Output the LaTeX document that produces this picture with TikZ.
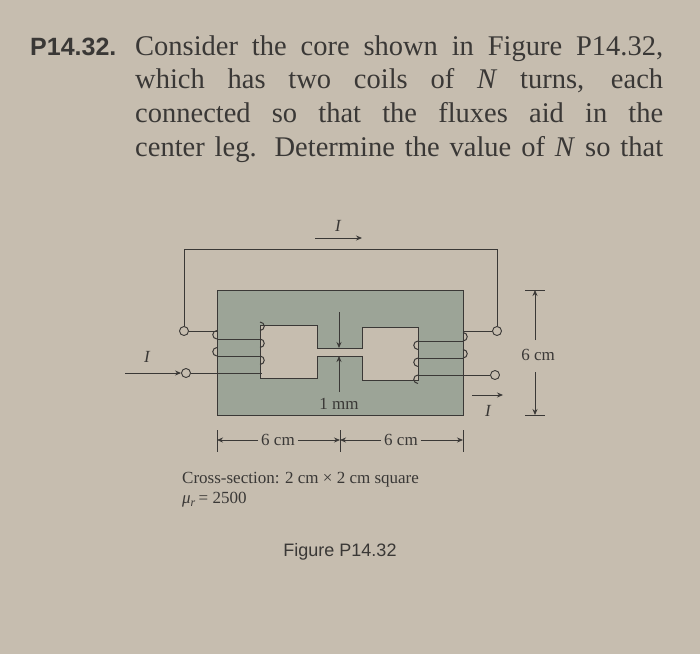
\documentclass[tikz,border=0pt]{standalone}
\usepackage{fontspec}
\setmainfont{Liberation Serif}
\newfontfamily\capfont{Liberation Sans}
\usetikzlibrary{arrows.meta}
\definecolor{bg}{HTML}{C6BDAF}
\definecolor{core}{HTML}{9CA497}
\definecolor{ink}{HTML}{3A3836}
\begin{document}
\begin{tikzpicture}[x=1pt,y=-1pt,
  wire/.style={draw=ink,line width=1pt},
  txt/.style={text=ink,inner sep=0pt,anchor=base west,font=\fontsize{28.5}{32}\selectfont},
  small/.style={text=ink,inner sep=0pt,font=\fontsize{17}{20}\selectfont},
  ital/.style={small,font=\itshape\fontsize{17}{20}\selectfont},
  arr/.style={draw=ink,line width=0.8pt,-{Stealth[length=6pt,width=5pt]}},
  term/.style={circle,draw=ink,fill=bg,line width=0.9pt,minimum size=9pt,inner sep=0pt}]
\fill[bg] (0,0) rectangle (700,654);
\useasboundingbox (0,0) rectangle (700,654);
% text
\node[txt] (t0) at (30,55) {\capfont\bfseries\fontsize{25}{28}\selectfont P14.32.};
\node[txt] (t1) at (135,55) {\hbox to 528pt{Consider the core shown in Figure P14.32,}};
\node[txt] (t2) at (135,88) {\hbox to 528pt{which has two coils of \textit{N} turns, each}};
\node[txt] (t3) at (135,122) {\hbox to 528pt{connected so that the fluxes aid in the}};
\node[txt] (t4) at (135,156) {\hbox to 528pt{center leg. Determine the value of \textit{N} so that}};
% core
\path[fill=core,draw=ink,line width=1pt,even odd rule]
  (217,290) rectangle (463,415)
  (260,325) -- (317,325) -- (317,348) -- (362,348) -- (362,327) -- (418,327) -- (418,380) -- (362,380) -- (362,356) -- (317,356) -- (317,378) -- (260,378) -- cycle;
\node[term] (a1) at (184,331) {};
\node[term] (a2) at (186,373) {};
\node[term] (b1) at (497,331) {};
\node[term] (b2) at (495,375) {};
% left coil
\draw[wire] (a1) -- (217,331);
\draw[wire] (217,339) -- (262,339) (217,356) -- (262,356) (a2) -- (262,373);
\draw[wire] (217,339) arc[start angle=90,end angle=270,radius=4.25];
\draw[wire] (217,356) arc[start angle=90,end angle=270,radius=4.25];
\foreach \y in {339,356,373}{\draw[wire] (260,\y-8.5) arc[start angle=90,end angle=-90,radius=4.25];}
% right coil
\draw[wire] (b1) -- (463,331);
\draw[wire] (418,341) -- (463,341) (418,358) -- (463,358) (418,375) -- (b2);
\draw[wire] (463,341) arc[start angle=90,end angle=-90,radius=4.25];
\draw[wire] (463,358) arc[start angle=90,end angle=-90,radius=4.25];
\foreach \y in {341,358,375}{\draw[wire] (418,\y) arc[start angle=270,end angle=90,radius=4.25];}
% top wire
\coordinate (c1) at (184,249);
\coordinate (c2) at (497,249);
\draw[wire] (a1) -- (c1) -- (c2) -- (b1);
% currents
\coordinate (i1s) at (315,238); \coordinate (i1e) at (362,238);
\draw[arr] (i1s) -- (i1e);
\node[ital] (il1) at (338,226) {I};
\coordinate (i2s) at (125,373);
\draw[arr] (i2s) -- (a2);
\node[ital] (il2) at (147,357) {I};
\coordinate (i3s) at (472,395); \coordinate (i3e) at (503,395);
\draw[arr] (i3s) -- (i3e);
\node[ital] (il3) at (488,411) {I};
% gap arrows
\coordinate (g1) at (339,312); \coordinate (g2) at (339,348);
\coordinate (g3) at (339,392); \coordinate (g4) at (339,356);
\draw[arr] (g1) -- (g2);
\draw[arr] (g3) -- (g4);
\node[small] (mm) at (339,404) {1 mm};
% right dim
\coordinate (r1) at (535,290); \coordinate (r2) at (535,415);
\draw[draw=ink,line width=0.8pt] (525,290) -- (545,290) (525,415) -- (545,415);
\draw[arr] (535,340) -- (r1);
\draw[arr] (535,372) -- (r2);
\node[small] (dr) at (538,355) {6 cm};
% bottom dims
\coordinate (d1) at (217,440); \coordinate (d2) at (340,440); \coordinate (d3) at (463,440);
\draw[draw=ink,line width=0.8pt] (217,430) -- (217,452) (340,430) -- (340,452) (463,430) -- (463,452);
\node[small] (db1) at (278,440) {6 cm};
\node[small] (db2) at (401,440) {6 cm};
\draw[arr] (db1.west) ++(-3,0) -- (d1);
\draw[arr] (db1.east) ++(3,0) -- (d2);
\draw[arr] (db2.west) ++(-3,0) -- (d2);
\draw[arr] (db2.east) ++(3,0) -- (d3);
% captions
\node[small,anchor=west] (cs) at (182,480) {Cross-section: 2 cm × 2 cm square};
\node[small,anchor=west] (mu) at (182,500) {\textit{μ\textsubscript{r}}\,= 2500};
\node[text=ink,inner sep=0pt,font=\capfont\fontsize{18}{21}\selectfont] (fig) at (340,552) {Figure P14.32};
\end{tikzpicture}
\end{document}
